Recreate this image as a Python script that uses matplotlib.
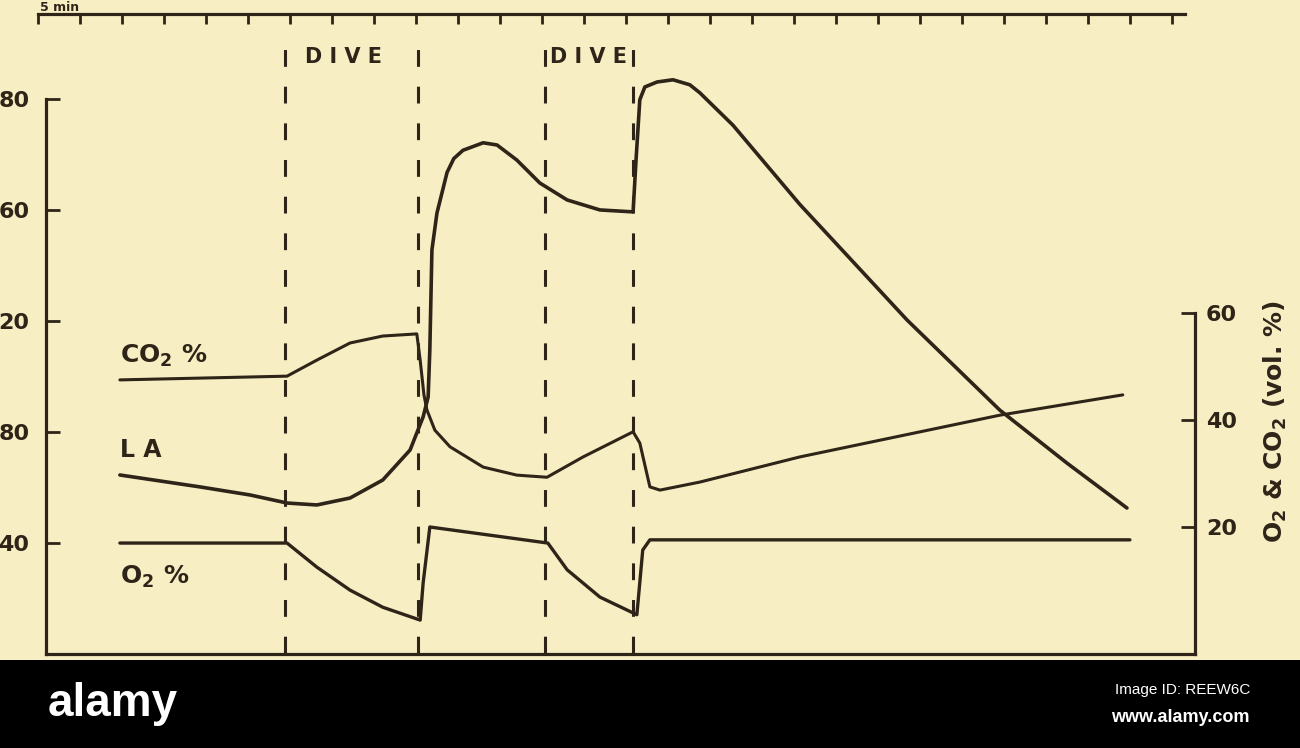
import matplotlib
matplotlib.use("Agg")
import matplotlib.pyplot as plt

# Time axis: one top tick per unit (scale bar reads "5 min")
TIME_TICKS = list(range(28))
DIVE_STARTS = [5.88, 12.07]
DIVE_ENDS = [9.05, 14.17]

# Lactic acid (left axis)
LA_T = [1.95, 3.86, 5.05, 5.93, 6.64, 7.43, 8.21, 8.86, 9.17, 9.29, 9.33, 9.38, 9.5, 9.74,
        9.9, 10.12, 10.6, 10.93, 11.4, 11.95, 12.6, 13.38, 14.17, 14.24, 14.33, 14.45, 14.74,
        15.12, 15.52, 15.76, 16.55, 18.14, 20.69, 22.9, 24.5, 25.93]
LA_V = [64.5, 60.2, 57.3, 54.4, 53.7, 56.2, 62.7, 73.5, 85.4, 92.6, 109.6, 145.6, 158.9, 173.5,
        178.5, 181.5, 184.2, 183.4, 178.0, 169.7, 163.6, 160.0, 159.3, 178.0, 199.7, 204.3, 206.1,
        206.9, 205.1, 202.2, 190.5, 162.0, 120.4, 87.9, 68.8, 52.6]

# CO2 vol % (right axis)
CO2_T = [1.95, 5.93, 6.64, 7.43, 8.21, 9.02, 9.1, 9.19, 9.26, 9.45, 9.81, 10.6, 11.4, 12.12,
         12.98, 14.17, 14.33, 14.57, 14.81, 15.76, 18.14, 22.9, 25.83]
CO2_V = [47.5, 48.2, 51.2, 54.4, 55.7, 56.1, 51.2, 44.7, 41.9, 38.1, 35.0, 31.2, 29.7, 29.3,
         33.1, 37.8, 35.7, 27.5, 26.9, 28.4, 33.1, 40.9, 44.7]

# O2 vol % (right axis)
O2_T = [1.95, 5.93, 6.64, 7.43, 8.21, 9.1, 9.17, 9.33, 12.14, 12.6, 13.38, 14.26, 14.4, 14.57, 26.0]
O2_V = [17.0, 17.0, 12.5, 8.2, 5.0, 2.6, 9.5, 20.0, 17.0, 12.0, 6.9, 3.6, 15.7, 17.6, 17.6]

LEFT_TICKS = [40, 80, 120, 160, 200]
LEFT_TICK_LABELS = ["40", "80", "20", "60", "80"]
RIGHT_TICKS = [20, 40, 60]

BG = "#f8eec4"
INK = "#2e2418"

W, H = 1300, 748
fig = plt.figure(figsize=(13, 7.48), dpi=100, facecolor=BG)

# plot area in pixels: x 38..1195, y 14..654
ax = fig.add_axes([38 / W, (H - 654) / H, (1195 - 38) / W, (654 - 14) / H])
ax.set_facecolor(BG)
ax.set_xlim(0, 27.55)
ax.set_ylim(0, 230.6)

ax2 = ax.twinx()
ax2.set_ylim(-3.74, 115.9)

# spines
ax.spines["right"].set_visible(False)
for s in ["left", "top", "bottom"]:
    ax2.spines[s].set_visible(False)
for sp in [ax.spines["left"], ax.spines["top"], ax.spines["bottom"], ax2.spines["right"]]:
    sp.set_color(INK)
    sp.set_linewidth(2.3)
ax.spines["left"].set_position(("data", 0.19))
ax.spines["left"].set_bounds(0, 200)
ax.spines["top"].set_bounds(0, 27.3)
ax.spines["bottom"].set_bounds(0.19, 27.55)
ax2.spines["right"].set_bounds(-3.74, 60)

ax.xaxis.set_ticks_position("top")
ax.set_xticks(TIME_TICKS)
ax.tick_params(axis="x", direction="in", length=7, width=2, color=INK,
               labeltop=False, labelbottom=False)
ax.set_yticks(LEFT_TICKS, labels=LEFT_TICK_LABELS)
ax.tick_params(axis="y", direction="in", length=10, width=2, color=INK, pad=12,
               labelsize=16, labelcolor=INK)
for lbl in ax.get_yticklabels():
    lbl.set_fontweight("bold")
ax2.set_yticks(RIGHT_TICKS)
ax2.tick_params(axis="y", direction="in", length=10, width=2, color=INK, pad=8,
                labelsize=16, labelcolor=INK)
for lbl in ax2.get_yticklabels():
    lbl.set_fontweight("bold")

# dive markers
for t in DIVE_STARTS + DIVE_ENDS:
    ax.plot([t, t], [0.5, 219], color=INK, lw=2.2, linestyle=(0, (5.5, 6.5)), zorder=2)
for t0, t1 in zip(DIVE_STARTS, DIVE_ENDS):
    ax.text((t0 + t1) / 2 if t1 - t0 < 3 else t0 + 1.4, 215, "D I V E", ha="center",
            va="center", fontsize=15, fontweight="bold", color=INK)

# curves
ax.plot(LA_T, LA_V, color=INK, lw=2.6, solid_capstyle="round", solid_joinstyle="round", zorder=3)
ax2.plot(CO2_T, CO2_V, color=INK, lw=2.2, solid_capstyle="round", solid_joinstyle="round", zorder=3)
ax2.plot(O2_T, O2_V, color=INK, lw=2.4, solid_capstyle="round", solid_joinstyle="round", zorder=3)

# curve labels
ax.text(1.95, 107.4, r"$\mathbf{CO_2}$ %", ha="left", va="center", fontsize=18,
        fontweight="bold", color=INK)
ax.text(1.95, 73.5, "L A", ha="left", va="center", fontsize=17, fontweight="bold", color=INK)
ax.text(1.95, 27.7, r"$\mathbf{O_2}$ %", ha="left", va="center", fontsize=18,
        fontweight="bold", color=INK)

# right axis title
fig.text(1275 / W, (H - 422) / H, r"$\mathbf{O_2}$ & $\mathbf{CO_2}$ (vol. %)", rotation=90,
         ha="center", va="center", fontsize=18, fontweight="bold", color=INK)

# time scale label above the top axis
fig.text(40 / W, 1 - 11 / H, "5 min", ha="left", va="baseline", fontsize=9,
         fontweight="bold", color=INK)

# stock photo banner
band = fig.add_axes([0, 0, 1, 88 / H])
band.set_facecolor("black")
band.set_xticks([])
band.set_yticks([])
for s in band.spines.values():
    s.set_visible(False)
band.text(48 / W, 0.5, "alamy", transform=band.transAxes, ha="left", va="center",
          fontsize=33, fontweight="bold", color="white", family="Liberation Sans")
band.text(1250 / W, 0.66, "Image ID: REEW6C", transform=band.transAxes, ha="right",
          va="center", fontsize=11, color="white", family="Liberation Sans")
band.text(1250 / W, 0.35, "www.alamy.com", transform=band.transAxes, ha="right",
          va="center", fontsize=13, fontweight="bold", color="white",
          family="Liberation Sans")

fig.savefig("out.png", dpi=100, facecolor=BG)
